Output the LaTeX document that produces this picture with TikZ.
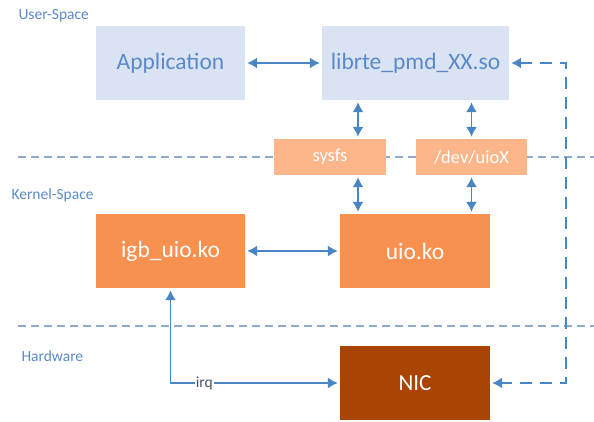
\documentclass[tikz,border=0pt]{standalone}
\usepackage{fontspec}
\setmainfont{Carlito}
\usepackage{tikz}
\usetikzlibrary{arrows.meta}
\definecolor{userfill}{HTML}{DAE3F3}
\definecolor{usertext}{HTML}{5A8AC8}
\definecolor{kernfill}{HTML}{F8914F}
\definecolor{ifacefill}{HTML}{FCB68A}
\definecolor{hwfill}{HTML}{A94402}
\definecolor{linkblue}{HTML}{4A86C6}
\definecolor{sepgray}{HTML}{8EAACC}
\definecolor{irqtext}{HTML}{44546A}
\tikzstyle{userbox} = [rectangle, fill=userfill, text=usertext, minimum width=149pt, minimum height=74pt, font=\fontsize{23.5}{28}\selectfont]
\tikzstyle{kernbox} = [rectangle, fill=kernfill, text=white, minimum width=149pt, minimum height=74pt, font=\fontsize{23.5}{28}\selectfont]
\tikzstyle{ifacebox} = [rectangle, fill=ifacefill, text=white, minimum width=111pt, minimum height=36pt, font=\fontsize{18.5}{22}\selectfont]
\tikzstyle{hwbox} = [rectangle, fill=hwfill, text=white, minimum width=150pt, minimum height=74pt, font=\fontsize{23}{28}\selectfont]
\tikzstyle{layerlabel} = [text=usertext, anchor=west, font=\fontsize{15.5}{18}\selectfont]
\tikzstyle{separator} = [sepgray, line width=1.3pt, dash pattern=on 8pt off 5pt]
\tikzstyle{link} = [linkblue, line width=1.6pt, {Latex[length=10pt,width=11pt]}-{Latex[length=10pt,width=11pt]}, shorten >=2pt, shorten <=2pt]
\tikzstyle{dmalink} = [link, dash pattern=on 12pt off 8pt]

\begin{document}
\begin{tikzpicture}[x=1pt, y=-1pt]
    \useasboundingbox (0,0) rectangle (594,422);

    % layer separators
    \coordinate (sepUL) at (18,157);
    \coordinate (sepUR) at (594,157);
    \coordinate (sepKL) at (18,326);
    \coordinate (sepKR) at (594,326);
    \draw [separator] (sepUL) -- (sepUR);
    \draw [separator] (sepKL) -- (sepKR);

    \node [layerlabel] (userlbl) at (15,16) {User-Space};
    \node [layerlabel] (kernlbl) at (8,195) {Kernel-Space};
    \node [layerlabel] (hwlbl) at (18,356) {Hardware};

    % boxes
    \node [userbox] (app) at (170.5,63) {Application};
    \node [userbox, minimum width=187pt] (pmd) at (415.5,63) {librte\_pmd\_XX.so};
    \node [ifacebox, minimum width=112pt] (sysfs) at (330,157) {sysfs};
    \node [ifacebox] (uiodev) at (471.5,157) {/dev/uioX};
    \node [kernbox] (igb) at (170.5,251) {igb\_uio.ko};
    \node [kernbox, minimum width=150pt] (uio) at (415,251) {uio.ko};
    \node [hwbox] (nic) at (415,383) {NIC};

    % connectors
    \coordinate (sysx) at (358,0);
    \draw [link] (pmd.south -| sysx) -- (sysfs.north -| sysx);
    \draw [link] (sysfs.south -| sysx) -- (uio.north -| sysx);
    \draw [link] (pmd.south -| uiodev.north) -- (uiodev.north);
    \draw [link] (uiodev.south) -- (uio.north -| uiodev.south);
    \draw [link] (app) -- (pmd);
    \draw [link] (igb) -- (uio);
    \draw [link] (igb.south) |- node [pos=0.6, fill=white, inner sep=1pt, text=irqtext, font=\fontsize{15.5}{18}\selectfont] (irq) {irq} (nic.west);

    \coordinate (rail) at (566,220);
    \draw [dmalink] (pmd.east) -| (rail) |- (nic.east);
\end{tikzpicture}
\end{document}
